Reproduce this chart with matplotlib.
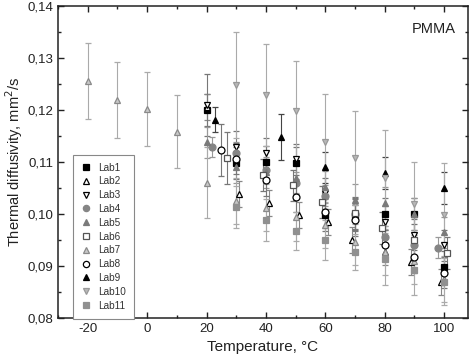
import matplotlib
matplotlib.use("Agg")
import matplotlib.pyplot as plt
from matplotlib.ticker import MultipleLocator, FuncFormatter
from matplotlib.lines import Line2D

plt.rcParams['font.family'] = ['Liberation Sans', 'DejaVu Sans']
plt.rcParams['axes.unicode_minus'] = False

# data (temperature, diffusivity, half error bar)
lab1_t = [20, 30, 40, 50, 60, 70, 80, 90, 100]
lab1_v = [0.1200, 0.1098, 0.1100, 0.1098, 0.0998, 0.0998, 0.1000, 0.1000, 0.0898]
lab1_e = [0.0030, 0.0030, 0.0030, 0.0030, 0.0030, 0.0030, 0.0030, 0.0030, 0.0030]

lab2_t = [20, 31, 41, 51, 61, 69, 80, 89, 99]
lab2_v = [0.1205, 0.1038, 0.1021, 0.0998, 0.0985, 0.0950, 0.0927, 0.0908, 0.0870]
lab2_e = [0.0025, 0.0025, 0.0025, 0.0025, 0.0025, 0.0025, 0.0025, 0.0025, 0.0025]

lab3_t = [20, 30, 40, 50, 60, 70, 80, 90, 100]
lab3_v = [0.1210, 0.1129, 0.1117, 0.1105, 0.1040, 0.1000, 0.0985, 0.0960, 0.0940]
lab3_e = [0.0060, 0.0030, 0.0030, 0.0030, 0.0030, 0.0030, 0.0030, 0.0030, 0.0030]

lab4_t = [22, 30, 40, 50, 60, 70, 80, 90, 98]
lab4_v = [0.1129, 0.1118, 0.1085, 0.1060, 0.1035, 0.1000, 0.0956, 0.0940, 0.0935]
lab4_e = [0.0020, 0.0020, 0.0020, 0.0020, 0.0020, 0.0020, 0.0020, 0.0020, 0.0020]

lab5_t = [20, 30, 40, 50, 60, 70, 80, 90, 100]
lab5_v = [0.1138, 0.1090, 0.1080, 0.1069, 0.1052, 0.1027, 0.1021, 0.1000, 0.0965]
lab5_e = [0.0030, 0.0030, 0.0030, 0.0030, 0.0030, 0.0030, 0.0030, 0.0030, 0.0030]

lab6_t = [27, 39, 49, 59, 70, 79, 90, 101]
lab6_v = [0.1108, 0.1075, 0.1055, 0.1023, 0.1002, 0.0973, 0.0950, 0.0925]
lab6_e = [0.0050, 0.0030, 0.0030, 0.0030, 0.0030, 0.0030, 0.0030, 0.0030]

lab7_t = [-20, -10, 0, 10, 20, 30, 40, 50, 60, 70, 80, 90, 100]
lab7_v = [0.1256, 0.1219, 0.1202, 0.1158, 0.1060, 0.1025, 0.1012, 0.0994,
          0.0979, 0.0946, 0.0927, 0.0910, 0.0875]
lab7_e = [0.0073, 0.0073, 0.0072, 0.0070, 0.0068, 0.0045, 0.0045, 0.0045,
          0.0045, 0.0045, 0.0045, 0.0045, 0.0045]

lab8_t = [25, 30, 40, 50, 60, 70, 80, 90, 100]
lab8_v = [0.1123, 0.1106, 0.1065, 0.1033, 0.1004, 0.0988, 0.0940, 0.0917, 0.0887]
lab8_e = [0.0050, 0.0030, 0.0030, 0.0030, 0.0030, 0.0030, 0.0030, 0.0030, 0.0030]

lab9_t = [23, 45, 60, 80, 100]
lab9_v = [0.1181, 0.1148, 0.1090, 0.1079, 0.1050]
lab9_e = [0.0024, 0.0045, 0.0030, 0.0030, 0.0030]

lab10_t = [30, 40, 50, 60, 70, 80, 90, 100]
lab10_v = [0.1248, 0.1229, 0.1198, 0.1138, 0.1108, 0.1069, 0.1019, 0.0998]
lab10_e = [0.0102, 0.0098, 0.0096, 0.0092, 0.0090, 0.0093, 0.0081, 0.0100]

lab11_t = [30, 40, 50, 60, 70, 80, 90, 100]
lab11_v = [0.1013, 0.0988, 0.0967, 0.0950, 0.0927, 0.0913, 0.0892, 0.0870]
lab11_e = [0.0040, 0.0040, 0.0036, 0.0038, 0.0035, 0.0050, 0.0048, 0.0045]

labs = [
    ("Lab1", lab1_t, lab1_v, lab1_e, 's', 'black', 'black', '#777777'),
    ("Lab2", lab2_t, lab2_v, lab2_e, '^', 'white', 'black', '#888888'),
    ("Lab3", lab3_t, lab3_v, lab3_e, 'v', 'white', 'black', '#777777'),
    ("Lab4", lab4_t, lab4_v, lab4_e, 'o', '#858585', '#858585', '#999999'),
    ("Lab5", lab5_t, lab5_v, lab5_e, '^', '#7a7a7a', '#7a7a7a', '#999999'),
    ("Lab6", lab6_t, lab6_v, lab6_e, 's', 'white', '#555555', '#777777'),
    ("Lab7", lab7_t, lab7_v, lab7_e, '^', '#c8c8c8', '#8a8a8a', '#aaaaaa'),
    ("Lab8", lab8_t, lab8_v, lab8_e, 'o', 'white', 'black', '#777777'),
    ("Lab9", lab9_t, lab9_v, lab9_e, '^', 'black', 'black', '#444444'),
    ("Lab10", lab10_t, lab10_v, lab10_e, 'v', '#b8b8b8', '#999999', '#aaaaaa'),
    ("Lab11", lab11_t, lab11_v, lab11_e, 's', '#909090', '#909090', '#aaaaaa'),
]

fig = plt.figure(figsize=(4.74, 3.64), dpi=100)
ax = fig.add_axes([0.1224, 0.1264, 0.8646, 0.857])

handles = []
for name, t, v, e, mk, fc, ec, barc in labs:
    ax.errorbar(t, v, yerr=e, fmt=mk, ms=5, mfc=fc, mec=ec, mew=0.9,
                ecolor=barc, elinewidth=0.8, capsize=2.5, capthick=0.8, zorder=3)
    handles.append(Line2D([], [], ls='none', marker=mk, ms=4.5, mfc=fc, mec=ec,
                          mew=0.9, label=name))

ax.set_xlim(-30, 108)
ax.set_ylim(0.08, 0.14)
ax.xaxis.set_major_locator(MultipleLocator(20))
ax.xaxis.set_minor_locator(MultipleLocator(10))
ax.yaxis.set_major_locator(MultipleLocator(0.01))
ax.yaxis.set_minor_locator(MultipleLocator(0.005))
ax.yaxis.set_major_formatter(FuncFormatter(lambda y, p: f"{y:.2f}".replace('.', ',')))
ax.tick_params(which='both', direction='in', top=True, right=True, width=1.0,
               labelsize=9.5, colors='#222222')
ax.tick_params(which='major', length=4)
ax.tick_params(which='minor', length=2.5)
for s in ax.spines.values():
    s.set_linewidth(1.1)
    s.set_color('#222222')

ax.set_xlabel("Temperature, °C", fontsize=11, color='#222222', labelpad=4)
ax.set_ylabel("Thermal diffusivity, mm$^2$/s", fontsize=10.5, color='#222222', labelpad=2)
ax.text(0.97, 0.925, "PMMA", transform=ax.transAxes, ha='right', va='center',
        fontsize=10.5, color='#222222')

leg = ax.legend(handles=handles, loc='upper left', bbox_to_anchor=(0.025, 0.54),
                fontsize=7.2, labelspacing=0.38, handletextpad=0.7, handlelength=1.0,
                borderpad=0.8, fancybox=False, framealpha=1)
leg.get_frame().set_edgecolor('#888888')
leg.get_frame().set_linewidth(0.8)
for txt in leg.get_texts():
    txt.set_color('#333333')

fig.savefig("out.png", dpi=100)
